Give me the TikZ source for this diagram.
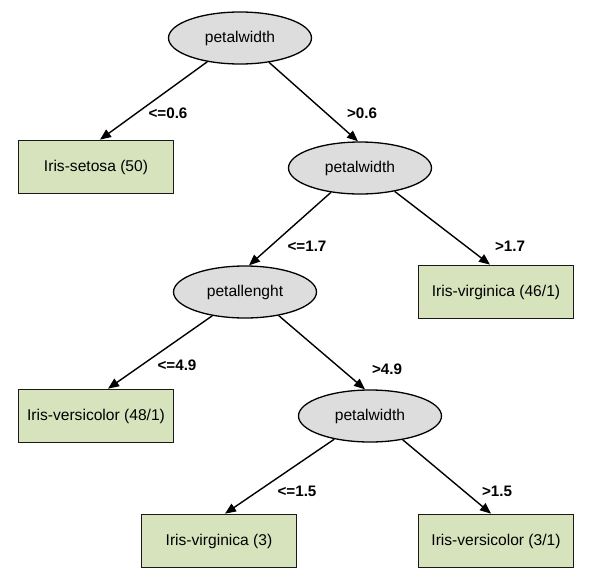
\documentclass[tikz,border=0pt]{standalone}
\usepackage{fontspec}
\setmainfont{Liberation Sans}
\usetikzlibrary{shapes.geometric,arrows.meta}
\definecolor{ellfill}{HTML}{DDDDDD}
\definecolor{leaffill}{HTML}{D7E3BD}
\begin{document}
\begin{tikzpicture}[x=1pt,y=-1pt,
  font=\fontsize{15.6}{18}\selectfont,
  split/.style={ellipse,draw=black,line width=1.3pt,fill=ellfill,minimum width=143pt,minimum height=52pt,inner sep=0pt},
  leaf/.style={rectangle,draw=black!90,line width=1.7pt,fill=leaffill,minimum width=155pt,minimum height=53pt,inner sep=0pt},
  edge/.style={line width=1.4pt,-{Triangle[length=11pt,width=9pt]}},
  elabel/.style={font=\fontsize{15.2}{18}\selectfont\bfseries,inner sep=0pt}]
\useasboundingbox (0,0) rectangle (589,581);
\node[split] (root) at (240,38) {petalwidth};
\node[leaf] (setosa) at (96,167) {Iris-setosa (50)};
\node[split] (pw2) at (360,168) {petalwidth};
\node[leaf] (virg1) at (496,292) {Iris-virginica (46/1)};
\node[split] (plen) at (245,292) {petallenght};
\node[leaf] (vers1) at (96,416) {Iris-versicolor (48/1)};
\node[split] (pw3) at (370,416) {petalwidth};
\node[leaf] (virg3) at (219,541) {Iris-virginica (3)};
\node[leaf] (vers3) at (496,541) {Iris-versicolor (3/1)};

\draw[edge] (root.-144.5) -- ([xshift=4pt]setosa.north);
\draw[edge] (root.-40) -- ([xshift=-2pt]pw2.north);
\draw[edge] (pw2.-140) -- ([xshift=4pt]plen.north);
\draw[edge] (pw2.-34.4) -- ([xshift=-6pt]virg1.north);
\draw[edge] (plen.-144.5) -- ([xshift=12pt]vers1.north);
\draw[edge] (plen.-35.7) -- ([xshift=-5pt]pw3.north);
\draw[edge] (pw3.-147) -- ([xshift=6pt]virg3.north);
\draw[edge] (pw3.-36.9) -- ([xshift=-5pt]vers3.north);

\node[elabel] (l1) at (168,113) {<=0.6};
\node[elabel] (l2) at (362,113) {>0.6};
\node[elabel] (l3) at (307,246) {<=1.7};
\node[elabel] (l4) at (510,246) {>1.7};
\node[elabel] (l5) at (177,365) {<=4.9};
\node[elabel] (l6) at (387,369) {>4.9};
\node[elabel] (l7) at (297,491) {<=1.5};
\node[elabel] (l8) at (497,491) {>1.5};
\end{tikzpicture}
\end{document}
